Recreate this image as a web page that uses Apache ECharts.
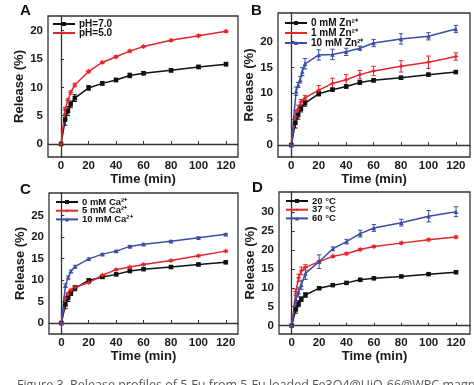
<!DOCTYPE html>
<html><head><meta charset="utf-8">
<script src="https://cdn.jsdelivr.net/npm/echarts@6/dist/echarts.min.js"></script>
<style>html,body{margin:0;padding:0;background:#fff;}#c{width:474px;height:385px;}</style>
</head><body><div id="c"></div>
<script>
// ---- data ----
const timeMin = [0, 3, 5, 7, 10, 20, 30, 40, 50, 60, 80, 100, 120];
const timeZn10 = [0, 3.5, 5, 6.5, 8, 10, 20, 30, 40, 50, 60, 80, 100, 120];
const xTicks = [0, 20, 40, 60, 80, 100, 120];
const yTicksA = [0, 5, 10, 15, 20];
const yTicksB = [0, 5, 10, 15, 20];
const yTicksC = [0, 5, 10, 15, 20, 25];
const yTicksD = [0, 5, 10, 15, 20, 25, 30];

const control = [0, 4.3, 5.8, 7.0, 8.1, 9.9, 10.7, 11.3, 12.1, 12.5, 13.0, 13.6, 14.1];
const controlErr = [0, 1.0, 0.8, 0.6, 0.6, 0.4, 0.3, 0.3, 0.4, 0.3, 0.3, 0.3, 0.3];

const pH5 = [0, 6.2, 7.7, 9.1, 10.4, 12.8, 14.4, 15.4, 16.4, 17.2, 18.3, 19.1, 19.9];
const pH5Err = [0, 0.3, 0.3, 0.3, 0.3, 0.2, 0.2, 0.2, 0.2, 0.2, 0.2, 0.2, 0.2];

const zn1 = [0, 5.5, 6.9, 8.3, 9.1, 10.6, 11.9, 12.6, 13.6, 14.3, 15.2, 16.0, 17.1];
const zn1Err = [0, 1.2, 0.8, 0.5, 0.5, 0.9, 1.0, 1.0, 0.8, 0.9, 1.1, 1.2, 0.7];
const zn10 = [0, 10.4, 11.6, 12.6, 14.2, 15.7, 17.4, 17.5, 18.0, 18.7, 19.7, 20.5, 21.0, 22.4];
const zn10Err = [0, 0.8, 0.5, 0.6, 0.8, 1.0, 1.0, 1.0, 0.7, 0.4, 0.7, 1.0, 0.7, 0.7];

const ca5 = [0, 5.8, 6.8, 7.6, 8.3, 9.4, 11.1, 12.4, 13.0, 13.6, 14.5, 15.6, 16.7];
const ca5Err = [0, 0.4, 0.3, 0.3, 0.3, 0.2, 0.2, 0.2, 0.2, 0.2, 0.2, 0.2, 0.2];
const ca10 = [0, 8.7, 10.6, 12.0, 13.1, 14.9, 16.0, 16.7, 17.8, 18.3, 19.0, 19.8, 20.6];
const ca10Err = [0, 0.4, 0.3, 0.3, 0.3, 0.2, 0.2, 0.2, 0.2, 0.2, 0.2, 0.2, 0.2];

const t37 = [0, 9.0, 12.6, 14.5, 15.4, 16.9, 18.3, 19.0, 20.1, 20.9, 21.8, 22.7, 23.4];
const t37Err = [0, 0.6, 1.0, 1.0, 0.7, 0.3, 0.3, 0.3, 0.3, 0.3, 0.3, 0.3, 0.3];
const t60 = [0, 7.0, 8.8, 10.8, 13.8, 16.9, 20.3, 22.2, 24.3, 25.8, 27.2, 28.9, 30.1];
const t60Err = [0, 1.0, 1.2, 1.2, 1.6, 1.8, 0.5, 0.6, 0.9, 0.9, 0.9, 1.5, 1.3];

const panelLetters = ['A', 'B', 'C', 'D'];
const captionText = 'Figure 3. Release profiles of 5-Fu from 5-Fu loaded Fe3O4@UiO-66@WPC magnetic microbeads in';

// ---- styles ----
const BLACK = '#111111', RED = '#e3262a', BLUE = '#3a4ea8';
const FONT = '"Liberation Sans", Arial, sans-serif';
const STAR = 'path://M0,-10 L3,-3 L10,0 L3,3 L0,10 L-3,3 L-10,0 L-3,-3 Z';

const grids = [
  {left: 48, top: 16, width: 190, height: 141},
  {left: 278, top: 13, width: 192, height: 144},
  {left: 49, top: 193, width: 189, height: 141},
  {left: 279, top: 192, width: 191, height: 142}
];
const xRanges = [[-9.5, 128.7], [-9.7, 130.3], [-9.0, 128.9], [-9.3, 130.2]];
const yRanges = [[-2.3, 22.6], [-2.3, 25.5], [-2.55, 30.2], [-2.2, 35.3]];
const yTicks = [yTicksA, yTicksB, yTicksC, yTicksD];

const axisCommon = {
  axisLine: {show: true, lineStyle: {color: '#333', width: 1.3}},
  axisTick: {show: true, inside: true, length: 3, lineStyle: {color: '#333', width: 1}},
  splitLine: {show: false},
  nameTextStyle: {fontFamily: FONT, fontWeight: 'bold', fontSize: 13, color: '#1a1a1a'}
};

const xAxes = grids.map((g, i) => Object.assign({}, axisCommon, {
  type: 'value', gridIndex: i, min: xRanges[i][0], max: xRanges[i][1],
  name: 'Time (min)', nameLocation: 'middle', nameGap: 14,
  axisTick: Object.assign({}, axisCommon.axisTick, {customValues: xTicks}),
  axisLabel: {customValues: xTicks, margin: 3, fontFamily: FONT, fontWeight: 'bold', fontSize: 11.5, color: '#1a1a1a'}
}));
const yAxes = grids.map((g, i) => Object.assign({}, axisCommon, {
  type: 'value', gridIndex: i, min: yRanges[i][0], max: yRanges[i][1],
  name: 'Release (%)', nameLocation: 'middle', nameGap: 15, nameRotate: 90,
  axisTick: Object.assign({}, axisCommon.axisTick, {customValues: yTicks[i]}),
  axisLabel: {customValues: yTicks[i], margin: 5, fontFamily: FONT, fontWeight: 'bold', fontSize: 11.5, color: '#1a1a1a'}
}));

function lineS(name, gi, xs, ys, color, symbol, size) {
  return {
    name, type: 'line', xAxisIndex: gi, yAxisIndex: gi,
    data: xs.map((x, k) => [x, ys[k]]),
    symbol, symbolSize: size, showSymbol: true,
    lineStyle: {color, width: 1.5}, itemStyle: {color},
    z: 3, animation: false
  };
}
function errS(gi, xs, ys, es, color) {
  return {
    type: 'custom', xAxisIndex: gi, yAxisIndex: gi, silent: true, z: 2, animation: false,
    data: xs.map((x, k) => [x, ys[k] - es[k], ys[k] + es[k]]),
    renderItem: (params, api) => {
      const lo = api.coord([api.value(0), api.value(1)]);
      const hi = api.coord([api.value(0), api.value(2)]);
      if (Math.abs(lo[1] - hi[1]) < 1) return null;
      const w = 2.2, st = {stroke: color, lineWidth: 1};
      return {type: 'group', children: [
        {type: 'line', shape: {x1: lo[0], y1: lo[1], x2: hi[0], y2: hi[1]}, style: st},
        {type: 'line', shape: {x1: lo[0] - w, y1: lo[1], x2: lo[0] + w, y2: lo[1]}, style: st},
        {type: 'line', shape: {x1: hi[0] - w, y1: hi[1], x2: hi[0] + w, y2: hi[1]}, style: st}
      ]};
    }
  };
}

const names = {
  A: ['pH=7.0', 'pH=5.0'],
  B: ['0 mM Zn²⁺', '1 mM Zn²⁺', '10 mM Zn²⁺'],
  C: ['0 mM Ca²⁺', '5 mM Ca²⁺', '10 mM Ca²⁺'],
  D: ['20 °C', '37 °C', '60 °C']
};

const series = [
  errS(0, timeMin, control, controlErr, BLACK), errS(0, timeMin, pH5, pH5Err, RED),
  lineS(names.A[0], 0, timeMin, control, BLACK, 'rect', 4.5),
  lineS(names.A[1], 0, timeMin, pH5, RED, STAR, 6),

  errS(1, timeMin, control, controlErr, BLACK), errS(1, timeMin, zn1, zn1Err, RED), errS(1, timeZn10, zn10, zn10Err, BLUE),
  lineS(names.B[0], 1, timeMin, control, BLACK, 'rect', 4.5),
  lineS(names.B[1], 1, timeMin, zn1, RED, STAR, 6),
  lineS(names.B[2], 1, timeZn10, zn10, BLUE, 'triangle', 4.5),

  errS(2, timeMin, control, controlErr, BLACK), errS(2, timeMin, ca5, ca5Err, RED), errS(2, timeMin, ca10, ca10Err, BLUE),
  lineS(names.C[0], 2, timeMin, control, BLACK, 'rect', 4.5),
  lineS(names.C[1], 2, timeMin, ca5, RED, STAR, 6),
  lineS(names.C[2], 2, timeMin, ca10, BLUE, 'triangle', 4.5),

  errS(3, timeMin, control, controlErr, BLACK), errS(3, timeMin, t37, t37Err, RED), errS(3, timeMin, t60, t60Err, BLUE),
  lineS(names.D[0], 3, timeMin, control, BLACK, 'rect', 4.5),
  lineS(names.D[1], 3, timeMin, t37, RED, STAR, 6),
  lineS(names.D[2], 3, timeMin, t60, BLUE, 'triangle', 4.5)
];

function mkLegend(data, left, top, gap, fs) {
  return {
    data, left, top, orient: 'vertical', itemWidth: 22, itemHeight: 5, itemGap: gap,
    selectedMode: false, padding: 0,
    textStyle: {fontFamily: FONT, fontWeight: 'bold', fontSize: fs, color: '#111', lineHeight: 8, padding: [0, 0, 0, -1]}
  };
}

const legends = [
  mkLegend(names.A, 52, 19, -1, 10),
  mkLegend(names.B, 284, 18, 0, 10),
  mkLegend(names.C, 55, 197, -1.3, 9.5),
  mkLegend(names.D, 285, 196, -1.3, 9.5)
];

const letterPos = [[20, 3], [251, 3], [20, 182], [252, 180]];
const graphic = panelLetters.map((L, i) => ({
  type: 'text', left: letterPos[i][0], top: letterPos[i][1],
  style: {text: L, fontFamily: FONT, fontWeight: 'bold', fontSize: 15, fill: '#111'}
})).concat([{
  type: 'text', left: 17, top: 379,
  style: {text: captionText, fontFamily: '"Open Sans", sans-serif', fontSize: 12.5, fill: '#555'}
}]);

const chart = echarts.init(document.getElementById('c'), null, {renderer: 'canvas'});
chart.setOption({
  animation: false,
  backgroundColor: '#fff',
  grid: grids.map(g => Object.assign({show: true, borderColor: '#333', borderWidth: 1.3, backgroundColor: 'transparent'}, g)),
  xAxis: xAxes, yAxis: yAxes,
  legend: legends,
  series, graphic
});
</script></body></html>
